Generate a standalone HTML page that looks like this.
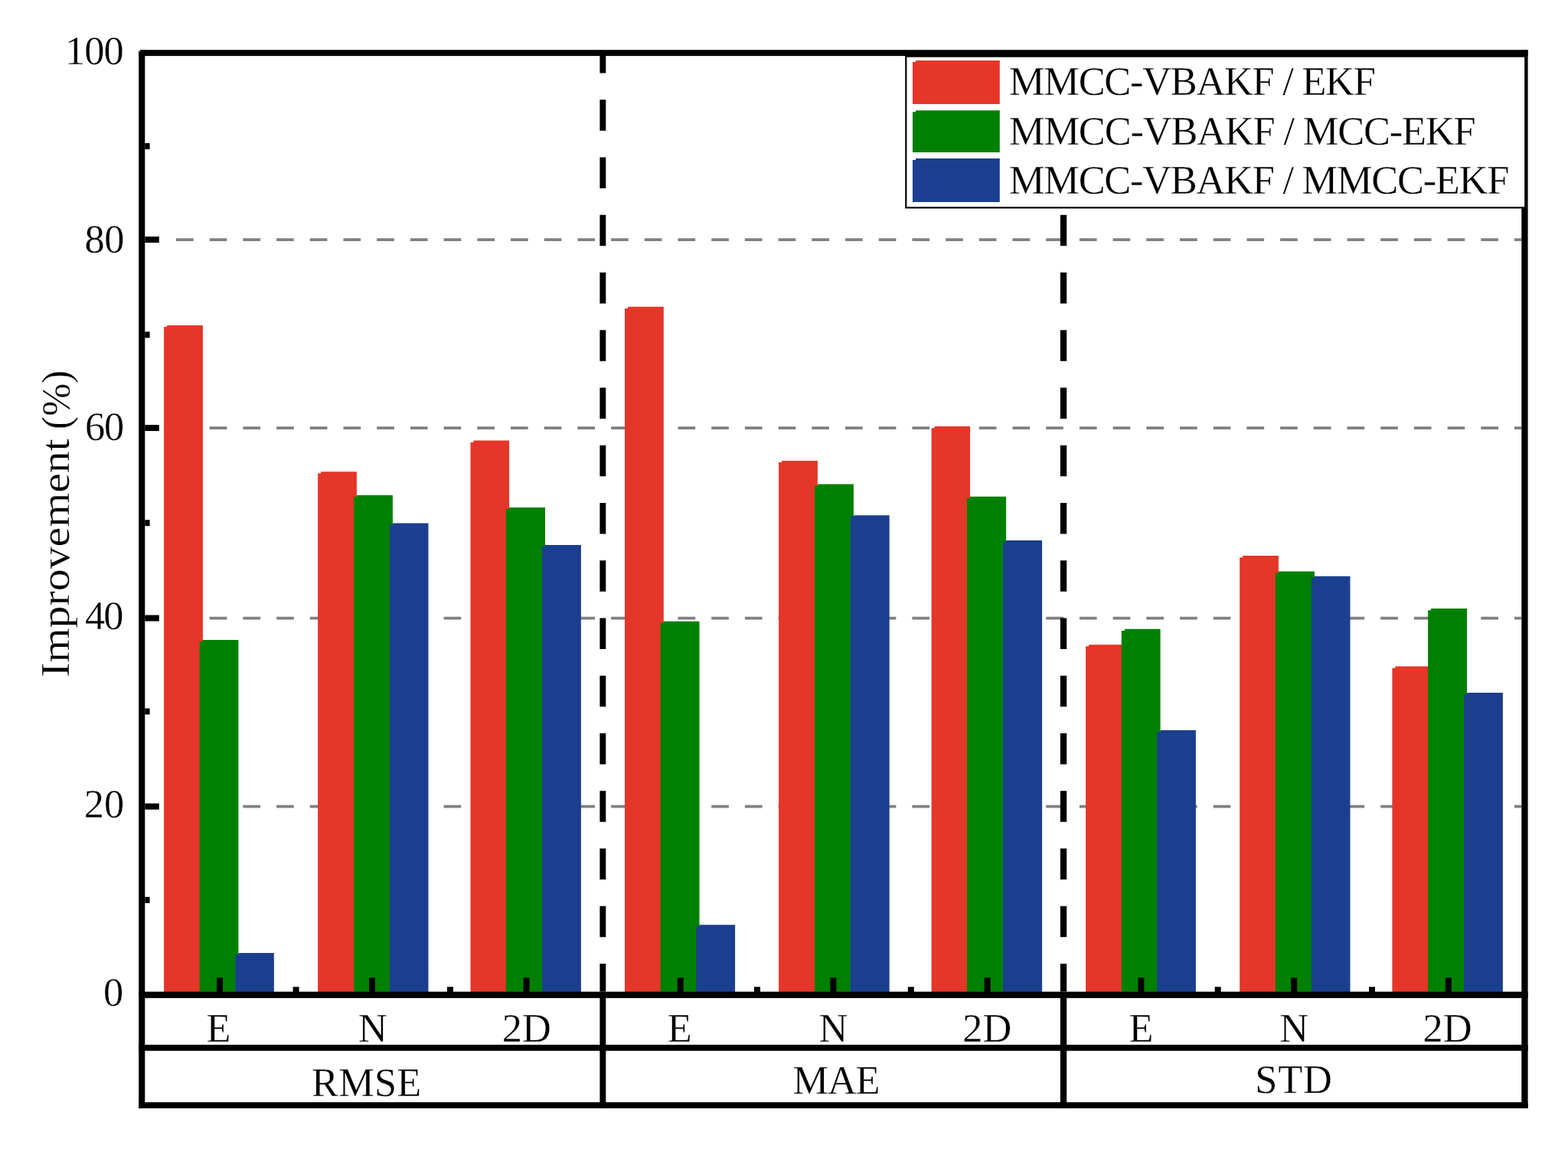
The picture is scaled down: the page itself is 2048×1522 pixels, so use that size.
<!DOCTYPE html>
<html><head><meta charset="utf-8"><title>Improvement (%) bar chart</title>
<style>html,body{margin:0;padding:0;background:#fff;overflow:hidden;}svg{display:block;}</style>
</head><body>
<svg width="2048" height="1522" viewBox="0 0 2048 1522">
<rect width="2048" height="1522" fill="#fff"/>
<defs><clipPath id="pa"><rect x="189.3" y="73.1" width="1798.00" height="1222.50"/></clipPath></defs>
<g clip-path="url(#pa)">
<line x1="230" y1="313.05" x2="1987.3" y2="313.05" stroke="#808080" stroke-width="3.8" stroke-dasharray="22.7 21.0"/>
<line x1="230" y1="559.05" x2="1987.3" y2="559.05" stroke="#808080" stroke-width="3.8" stroke-dasharray="22.7 21.0"/>
<line x1="230" y1="807.55" x2="1987.3" y2="807.55" stroke="#808080" stroke-width="3.8" stroke-dasharray="22.7 21.0"/>
<line x1="230" y1="1053.60" x2="1987.3" y2="1053.60" stroke="#808080" stroke-width="3.8" stroke-dasharray="22.7 21.0"/>
</g>
<path d="M214.10 427.10h4v-2.1H264.90V1297.60H214.10z" fill="#E43629"/>
<path d="M260.70 838.10h4v-2.1H311.40V1297.60H260.70z" fill="#008000"/>
<path d="M307.40 1247.10h4v-2.1H357.90V1297.60H307.40z" fill="#1B3F8F"/>
<path d="M415.10 618.40h4v-2.1H465.90V1297.60H415.10z" fill="#E43629"/>
<path d="M462.00 649.10h4v-2.1H512.90V1297.60H462.00z" fill="#008000"/>
<path d="M509.00 685.60h4v-2.1H559.50V1297.60H509.00z" fill="#1B3F8F"/>
<path d="M614.50 577.70h4v-2.1H665.10V1297.60H614.50z" fill="#E43629"/>
<path d="M660.90 665.10h4v-2.1H712.00V1297.60H660.90z" fill="#008000"/>
<path d="M708.00 714.00h4v-2.1H758.90V1297.60H708.00z" fill="#1B3F8F"/>
<path d="M816.00 402.90h4v-2.1H866.80V1297.60H816.00z" fill="#E43629"/>
<path d="M862.60 813.80h4v-2.1H913.50V1297.60H862.60z" fill="#008000"/>
<path d="M909.30 1210.30h4v-2.1H960.10V1297.60H909.30z" fill="#1B3F8F"/>
<path d="M1017.10 604.10h4v-2.1H1067.90V1297.60H1017.10z" fill="#E43629"/>
<path d="M1064.00 634.70h4v-2.1H1114.90V1297.60H1064.00z" fill="#008000"/>
<path d="M1110.90 675.30h4v-2.1H1161.70V1297.60H1110.90z" fill="#1B3F8F"/>
<path d="M1216.60 559.20h4v-2.1H1267.10V1297.60H1216.60z" fill="#E43629"/>
<path d="M1263.00 650.90h4v-2.1H1314.10V1297.60H1263.00z" fill="#008000"/>
<path d="M1310.00 708.00h4v-2.1H1361.10V1297.60H1310.00z" fill="#1B3F8F"/>
<path d="M1418.10 844.30h4v-2.1H1468.85V1297.60H1418.10z" fill="#E43629"/>
<path d="M1464.80 823.90h4v-2.1H1515.60V1297.60H1464.80z" fill="#008000"/>
<path d="M1511.30 956.20h4v-2.1H1561.90V1297.60H1511.30z" fill="#1B3F8F"/>
<path d="M1619.20 728.20h4v-2.1H1669.90V1297.60H1619.20z" fill="#E43629"/>
<path d="M1665.90 748.50h4v-2.1H1716.90V1297.60H1665.90z" fill="#008000"/>
<path d="M1712.90 754.80h4v-2.1H1763.50V1297.60H1712.90z" fill="#1B3F8F"/>
<path d="M1818.40 872.70h4v-2.1H1869.15V1297.60H1818.40z" fill="#E43629"/>
<path d="M1865.10 797.20h4v-2.1H1916.00V1297.60H1865.10z" fill="#008000"/>
<path d="M1912.10 907.20h4v-2.1H1962.90V1297.60H1912.10z" fill="#1B3F8F"/>
<g clip-path="url(#pa)">
<line x1="787.35" y1="55.05" x2="787.35" y2="1295.6" stroke="#000" stroke-width="7.90" stroke-dasharray="40.4 34.85"/>
<line x1="1389.05" y1="55.05" x2="1389.05" y2="1295.6" stroke="#000" stroke-width="8.30" stroke-dasharray="40.4 34.85"/>
</g>
<rect x="783.4" y="1295.6" width="7.90" height="152.30" fill="#000"/>
<rect x="1384.9" y="1295.6" width="8.30" height="152.30" fill="#000"/>
<rect x="181.2" y="65.2" width="8.10" height="1382.70" fill="#000"/>
<rect x="1987.3" y="65.2" width="8.30" height="1382.70" fill="#000"/>
<rect x="181.2" y="65.2" width="1814.40" height="7.90" fill="#000"/>
<rect x="181.2" y="1295.6" width="1814.40" height="8.30" fill="#000"/>
<rect x="181.2" y="1364.9" width="1814.40" height="7.90" fill="#000"/>
<rect x="181.2" y="1440.0" width="1814.40" height="7.90" fill="#000"/>
<rect x="181.2" y="65.2" width="2" height="1.9" fill="#fff"/>
<rect x="189.3" y="187.00" width="6.3" height="8" fill="#000"/>
<rect x="189.3" y="309.05" width="18.5" height="8" fill="#000"/>
<rect x="189.3" y="433.40" width="6.3" height="8" fill="#000"/>
<rect x="189.3" y="555.05" width="18.5" height="8" fill="#000"/>
<rect x="189.3" y="679.20" width="6.3" height="8" fill="#000"/>
<rect x="189.3" y="803.55" width="18.5" height="8" fill="#000"/>
<rect x="189.3" y="925.45" width="6.3" height="8" fill="#000"/>
<rect x="189.3" y="1049.60" width="18.5" height="8" fill="#000"/>
<rect x="189.3" y="1171.80" width="6.3" height="8" fill="#000"/>
<rect x="283.05" y="1277.2" width="8" height="19.40" fill="#000"/>
<rect x="482.00" y="1277.2" width="8" height="19.40" fill="#000"/>
<rect x="683.60" y="1277.2" width="8" height="19.40" fill="#000"/>
<rect x="884.70" y="1277.2" width="8" height="19.40" fill="#000"/>
<rect x="1084.40" y="1277.2" width="8" height="19.40" fill="#000"/>
<rect x="1285.70" y="1277.2" width="8" height="19.40" fill="#000"/>
<rect x="1486.40" y="1277.2" width="8" height="19.40" fill="#000"/>
<rect x="1686.20" y="1277.2" width="8" height="19.40" fill="#000"/>
<rect x="1887.80" y="1277.2" width="8" height="19.40" fill="#000"/>
<rect x="382.60" y="1289.3" width="8" height="7.30" fill="#000"/>
<rect x="584.00" y="1289.3" width="8" height="7.30" fill="#000"/>
<rect x="985.00" y="1289.3" width="8" height="7.30" fill="#000"/>
<rect x="1185.80" y="1289.3" width="8" height="7.30" fill="#000"/>
<rect x="1586.70" y="1289.3" width="8" height="7.30" fill="#000"/>
<rect x="1788.00" y="1289.3" width="8" height="7.30" fill="#000"/>
<rect x="1183.30" y="73.60" width="809.00" height="197.70" fill="#fff" stroke="#000" stroke-width="2.2"/>
<path d="M1192 81.10h4v-2h109.8V136.10H1192z" fill="#E43629"/>
<path d="M1192 146.30h4v-2h109.8V198.90H1192z" fill="#008000"/>
<path d="M1192 209.10h4v-2h109.8V264.10H1192z" fill="#1B3F8F"/>
<text id="L1" x="1318.00" y="124.00" font-family="Liberation Serif, 'Times New Roman', serif" stroke="#fff" stroke-width="0.3" font-size="52.4" textLength="478.83" lengthAdjust="spacing">MMCC-VBAKF / EKF</text>
<text id="L2" x="1318.00" y="188.80" font-family="Liberation Serif, 'Times New Roman', serif" stroke="#fff" stroke-width="0.3" font-size="52.4" textLength="609.73" lengthAdjust="spacing">MMCC-VBAKF / MCC-EKF</text>
<text id="L3" x="1318.00" y="252.60" font-family="Liberation Serif, 'Times New Roman', serif" stroke="#fff" stroke-width="0.3" font-size="52.4" textLength="653.33" lengthAdjust="spacing">MMCC-VBAKF / MMCC-EKF</text>
<text id="y100" x="85.00" y="83.75" font-family="Liberation Serif, 'Times New Roman', serif" stroke="#fff" stroke-width="0.3" font-size="52.4" textLength="76.59" lengthAdjust="spacing">100</text>
<text id="y80" x="110.60" y="329.60" font-family="Liberation Serif, 'Times New Roman', serif" stroke="#fff" stroke-width="0.3" font-size="52.4" textLength="51.79" lengthAdjust="spacing">80</text>
<text id="y60" x="111.00" y="575.15" font-family="Liberation Serif, 'Times New Roman', serif" stroke="#fff" stroke-width="0.3" font-size="52.4" textLength="51.09" lengthAdjust="spacing">60</text>
<text id="y40" x="111.00" y="822.35" font-family="Liberation Serif, 'Times New Roman', serif" stroke="#fff" stroke-width="0.3" font-size="52.4" textLength="50.39" lengthAdjust="spacing">40</text>
<text id="y20" x="109.80" y="1068.30" font-family="Liberation Serif, 'Times New Roman', serif" stroke="#fff" stroke-width="0.3" font-size="52.4" textLength="52.39" lengthAdjust="spacing">20</text>
<text id="y0" x="135.10" y="1314.10" font-family="Liberation Serif, 'Times New Roman', serif" stroke="#fff" stroke-width="0.3" font-size="52.4" textLength="32.00" lengthAdjust="spacing">0</text>
<text id="x0" x="269.60" y="1360.60" font-family="Liberation Serif, 'Times New Roman', serif" stroke="#fff" stroke-width="0.3" font-size="52.4">E</text>
<text id="x1" x="468.10" y="1360.60" font-family="Liberation Serif, 'Times New Roman', serif" stroke="#fff" stroke-width="0.3" font-size="52.4">N</text>
<text id="x2" x="655.80" y="1360.60" font-family="Liberation Serif, 'Times New Roman', serif" stroke="#fff" stroke-width="0.3" font-size="52.4">2D</text>
<text id="x3" x="871.70" y="1360.60" font-family="Liberation Serif, 'Times New Roman', serif" stroke="#fff" stroke-width="0.3" font-size="52.4">E</text>
<text id="x4" x="1069.60" y="1360.60" font-family="Liberation Serif, 'Times New Roman', serif" stroke="#fff" stroke-width="0.3" font-size="52.4">N</text>
<text id="x5" x="1257.20" y="1360.60" font-family="Liberation Serif, 'Times New Roman', serif" stroke="#fff" stroke-width="0.3" font-size="52.4">2D</text>
<text id="x6" x="1474.50" y="1360.60" font-family="Liberation Serif, 'Times New Roman', serif" stroke="#fff" stroke-width="0.3" font-size="52.4">E</text>
<text id="x7" x="1671.20" y="1360.60" font-family="Liberation Serif, 'Times New Roman', serif" stroke="#fff" stroke-width="0.3" font-size="52.4">N</text>
<text id="x8" x="1858.60" y="1360.60" font-family="Liberation Serif, 'Times New Roman', serif" stroke="#fff" stroke-width="0.3" font-size="52.4">2D</text>
<text id="RMSE" x="407.00" y="1431.70" font-family="Liberation Serif, 'Times New Roman', serif" stroke="#fff" stroke-width="0.3" font-size="52.4" textLength="143.27" lengthAdjust="spacing">RMSE</text>
<text id="MAE" x="1035.60" y="1429.40" font-family="Liberation Serif, 'Times New Roman', serif" stroke="#fff" stroke-width="0.3" font-size="52.4" textLength="114.02" lengthAdjust="spacing">MAE</text>
<text id="STD" x="1639.20" y="1427.60" font-family="Liberation Serif, 'Times New Roman', serif" stroke="#fff" stroke-width="0.3" font-size="52.4" textLength="100.58" lengthAdjust="spacing">STD</text>
<text transform="rotate(-90)" font-family="Liberation Serif, 'Times New Roman', serif" stroke="#fff" stroke-width="0.3" font-size="53.6"><tspan x="-884.70" y="89.70" textLength="311.55" lengthAdjust="spacingAndGlyphs">Improvement</tspan> <tspan x="-561.00" y="90.70" textLength="77.19" lengthAdjust="spacingAndGlyphs">(%)</tspan></text>
</svg>
</body></html>
